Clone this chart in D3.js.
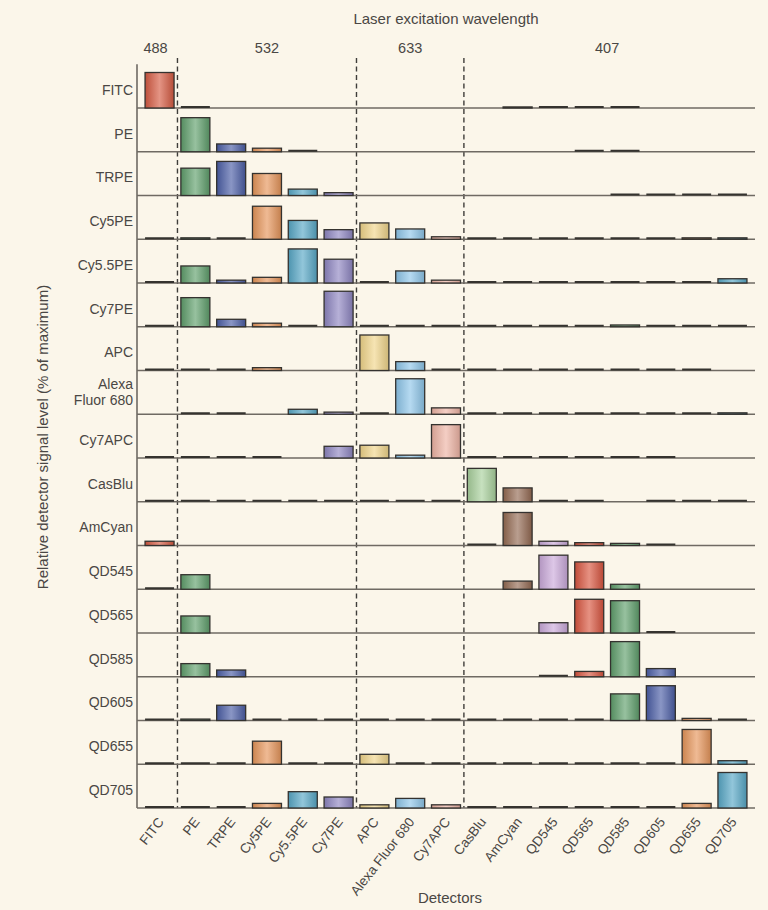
<!DOCTYPE html>
<html><head><meta charset="utf-8">
<script src="https://cdn.jsdelivr.net/npm/d3@7"></script>
<style>
html,body{margin:0;padding:0;background:#fbf6ea;}
text{font-family:"Liberation Sans",Arial,Helvetica,sans-serif;fill:#4a4744;}
</style></head>
<body><svg id="chart" width="768" height="910"></svg>
<script>
// ---- data ----
const detectors = ["FITC","PE","TRPE","Cy5PE","Cy5.5PE","Cy7PE","APC","Alexa Fluor 680","Cy7APC","CasBlu","AmCyan","QD545","QD565","QD585","QD605","QD655","QD705"];
const fluorochromes = ["FITC","PE","TRPE","Cy5PE","Cy5.5PE","Cy7PE","APC","Alexa\nFluor 680","Cy7APC","CasBlu","AmCyan","QD545","QD565","QD585","QD605","QD655","QD705"];
const detectorColors = ["#d65a42","#5f9f6c","#4b5ea6","#e6955a","#57a8c6","#8e86c2","#f1d68a","#8ec6ea","#eeb4a4","#a9d19c","#946a52","#caa9da","#d9553f","#5f9f6c","#4b5ea6","#e6955a","#57a8c6"];
const laserLabels = ["488","532","633","407"];
const laserGroups = [[0,0],[1,5],[6,8],[9,16]]; // first/last detector index per laser
// signal level (% of max); null = not shown, 0 = flat marker
const signals = {
  "FITC":     [100,0,null,null,null,null,null,null,null,null,3,0,0,0,null,null,null],
  "PE":       [null,96,22,10,0,null,null,null,null,null,null,null,0,0,null,null,null],
  "TRPE":     [null,77,96,62,18,8,null,null,null,null,null,null,null,0,0,0,0],
  "Cy5PE":    [0,4,0,93,53,27,46,29,7,0,0,0,0,0,0,4,4],
  "Cy5.5PE":  [0,48,8,16,96,67,0,34,8,0,0,0,0,0,0,0,12],
  "Cy7PE":    [0,82,21,10,0,100,0,0,0,0,0,0,0,5,0,0,0],
  "APC":      [0,0,0,8,null,null,100,25,0,0,0,0,0,0,0,0,null],
  "Alexa\nFluor 680": [null,0,0,null,14,6,0,100,18,0,0,0,0,0,0,0,4],
  "Cy7APC":   [0,0,0,0,null,33,36,8,94,0,0,0,0,0,0,null,null],
  "CasBlu":   [0,0,0,0,0,0,0,0,0,94,39,0,0,null,0,0,0],
  "AmCyan":   [12,null,null,null,null,null,null,null,null,0,93,12,8,6,0,null,null],
  "QD545":    [0,41,null,null,null,null,null,null,null,null,23,96,77,14,null,null,null],
  "QD565":    [null,48,null,null,null,null,null,null,null,null,null,29,95,91,0,null,null],
  "QD585":    [null,37,19,null,null,null,null,null,null,null,null,0,15,99,23,null,null],
  "QD605":    [0,4,43,0,0,0,0,0,0,0,0,0,0,75,98,6,0],
  "QD655":    [0,0,0,65,0,0,28,0,0,0,0,0,0,0,0,98,10],
  "QD705":    [0,0,0,13,46,31,9,27,9,0,0,0,0,0,0,13,100]
};

(function(){
// ---- layout ----
const svg = d3.select("#chart");
const pLeft = 137, pRight = 755, pTop = 64.25, pBottom = 808;
const x = d3.scaleBand().domain(detectors).range([pLeft, pRight]).paddingInner(0.19).paddingOuter(0.225);
const rowBand = d3.scaleBand().domain(fluorochromes).range([pTop, pBottom]).padding(0);
const y = d3.scaleLinear().domain([0, 100]).range([0, 35.5]);

// gradients
const defs = svg.append("defs");
detectorColors.forEach((c, i) => {
  const g = defs.append("linearGradient").attr("id", "g" + i).attr("x1", "0").attr("x2", "1").attr("y1", "0").attr("y2", "0");
  const base = d3.color(c);
  g.append("stop").attr("offset", "0%").attr("stop-color", base.darker(0.35));
  g.append("stop").attr("offset", "50%").attr("stop-color", d3.interpolateRgb(c, "#ffffff")(0.35));
  g.append("stop").attr("offset", "100%").attr("stop-color", base.darker(0.45));
});

// titles
svg.append("text").attr("x", 446).attr("y", 19).attr("dy", "0.35em").attr("text-anchor", "middle")
  .style("font-size", "15px").text("Laser excitation wavelength");
laserLabels.forEach((l, i) => {
  const [a, b] = laserGroups[i];
  const cx = (x(detectors[a]) + x(detectors[b]) + x.bandwidth()) / 2;
  svg.append("text").attr("x", i === 0 ? cx - 4 : cx).attr("y", 48).attr("dy", "0.35em").attr("text-anchor", "middle")
    .style("font-size", "14.5px").text(l);
});

// dashed separators
laserGroups.slice(1).forEach(([a]) => {
  const xx = x(detectors[a]) - x.step() * x.paddingInner() / 2;
  svg.append("line").attr("x1", xx).attr("x2", xx).attr("y1", 58).attr("y2", pBottom)
    .attr("stroke", "#3f3d3a").attr("stroke-width", 1.4).attr("stroke-dasharray", "5,3.5");
});

// rows
fluorochromes.forEach(f => {
  const base = rowBand(f) + rowBand.bandwidth();
  const g = svg.append("g");
  g.append("line").attr("x1", pLeft).attr("x2", pRight).attr("y1", base).attr("y2", base)
    .attr("stroke", "#6f6a63").attr("stroke-width", 1.6);
  signals[f].forEach((v, i) => {
    if (v === null) return;
    const d = detectors[i];
    if (v === 0) {
      g.append("rect").attr("x", x(d)).attr("y", base - 2).attr("width", x.bandwidth()).attr("height", 2)
        .attr("fill", "#35332f");
    } else {
      const h = y(v);
      g.append("rect").attr("x", x(d)).attr("y", base - h).attr("width", x.bandwidth()).attr("height", h)
        .attr("fill", "url(#g" + i + ")").attr("stroke", "#34322f").attr("stroke-width", 1.3);
    }
  });
  const lines = f.split("\n");
  const t = g.append("text").attr("text-anchor", "end").style("font-size", "14px");
  lines.forEach((ln, k) => {
    t.append("tspan").attr("x", 133).attr("y", base - 18 + (k - (lines.length - 1) / 2) * 16.5 - (lines.length > 1 ? 4 : 0))
      .attr("dy", "0.35em").text(ln);
  });
});

// left axis line
svg.append("line").attr("x1", pLeft).attr("x2", pLeft).attr("y1", pTop).attr("y2", pBottom)
  .attr("stroke", "#6f6a63").attr("stroke-width", 1.6);

// bottom detector labels
const xAxis = d3.axisBottom(x).tickSize(0).tickPadding(0);
const ax = svg.append("g").attr("transform", `translate(0,${pBottom})`).call(xAxis);
ax.select(".domain").remove();
ax.selectAll("text").attr("text-anchor", "end").attr("dy", null).attr("y", null)
  .attr("transform", "translate(5,14) rotate(-52)").style("font-size", "13.5px")
  .style("font-family", "'Liberation Sans',Arial,sans-serif").attr("fill", "#4a4744");

svg.append("text").attr("x", 450).attr("y", 898).attr("dy", "0.35em").attr("text-anchor", "middle")
  .style("font-size", "15px").text("Detectors");
svg.append("text").attr("transform", "translate(43,437) rotate(-90)").attr("dy", "0.35em").attr("text-anchor", "middle")
  .style("font-size", "15px").text("Relative detector signal level (% of maximum)");
})();
</script></body></html>
